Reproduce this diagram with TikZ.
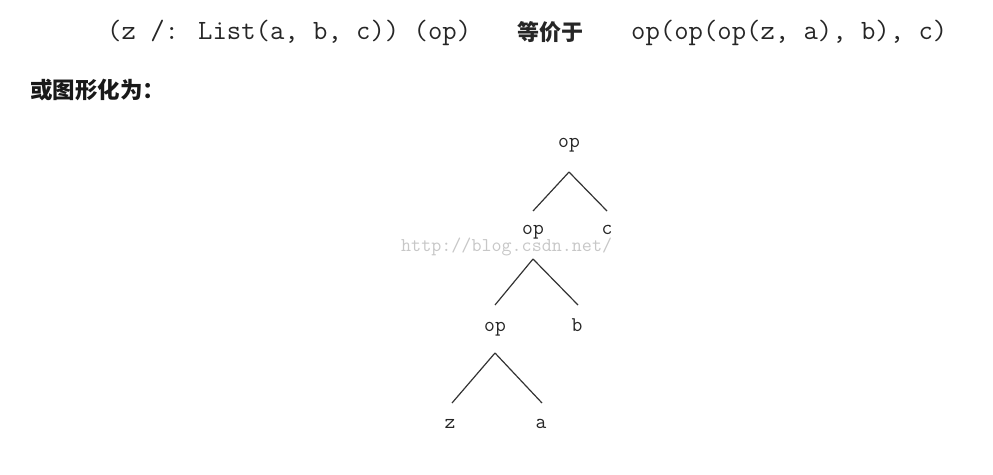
\documentclass[tikz,border=0pt]{standalone}
\usepackage{fontspec}
\newfontfamily\cjk{Noto Sans CJK SC}
\begin{document}
\begin{tikzpicture}[x=1pt,y=-1pt,
  lbl/.style={inner sep=0pt,anchor=base,font=\fontsize{21}{21}\selectfont\ttfamily,text=black!85},
  edge/.style={draw=black!80,line width=1.2pt},
  txt/.style={inner sep=0pt,font=\fontsize{27.9}{27.9}\selectfont\ttfamily,text=black!85}]
\useasboundingbox (0,0) rectangle (993,474);
% top formula
\node[txt,anchor=base west] (f1) at (107,39) {(z /: List(a, b, c)) (op)};
\node[inner sep=0pt,anchor=base west,font=\fontsize{22}{22}\selectfont\cjk\bfseries,text=black!85] (eq) at (517,40) {等价于};
\node[txt,anchor=base west] (f2) at (631,39) {op(op(op(z, a), b), c)};
\node[inner sep=0pt,anchor=west,font=\fontsize{22.5}{22.5}\selectfont\cjk\bfseries,text=black!90] (cap) at (30,90) {或图形化为：};
% watermark
\node[inner sep=0pt,anchor=west,font=\fontsize{19.5}{19.5}\selectfont\ttfamily,text=black!22] (wm) at (401,247) {http://blog.csdn.net/};
% tree
\node[lbl] (t) at (569,147) {op};
\node[lbl] (m) at (533,234) {op};
\node[lbl] (c) at (607,234) {c};
\node[lbl] (l) at (495,331) {op};
\node[lbl] (b) at (577,331) {b};
\node[lbl] (z) at (450,428) {z};
\node[lbl] (a) at (541,428) {a};
\draw[edge] ([yshift=-25pt]t.base) -- ([yshift=23pt]m.base);
\draw[edge] ([yshift=-25pt]t.base) -- ([yshift=23pt]c.base);
\draw[edge] ([yshift=-25pt]m.base) -- ([yshift=26pt]l.base);
\draw[edge] ([yshift=-25pt]m.base) -- ([yshift=26pt,xshift=1pt]b.base);
\draw[edge] ([yshift=-22pt]l.base) -- ([yshift=25pt,xshift=2pt]z.base);
\draw[edge] ([yshift=-22pt]l.base) -- ([yshift=25pt,xshift=1pt]a.base);
\end{tikzpicture}
\end{document}
